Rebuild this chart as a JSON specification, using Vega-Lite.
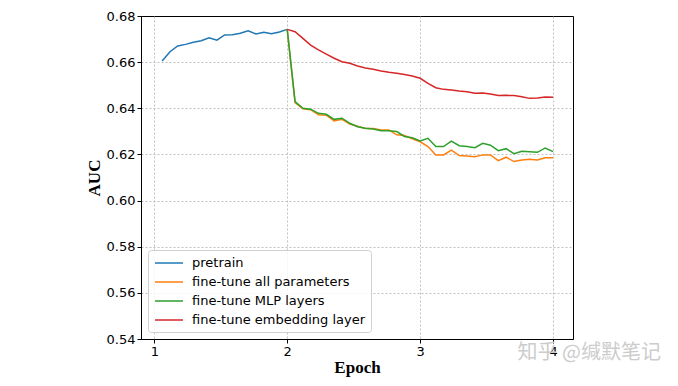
{
  "$schema": "https://vega.github.io/schema/vega-lite/v6.json",
  "width": 432,
  "height": 323,
  "autosize": {"type": "none"},
  "padding": {"left": 141, "top": 16, "right": 105, "bottom": 47},
  "background": "white",
  "title": {"text": "知乎 @缄默笔记", "orient": "bottom", "anchor": "end", "font": "Noto Sans CJK SC", "fontSize": 20, "fontWeight": "normal", "color": "#cccccc", "dx": 88, "dy": -36},
  "config": {
    "view": {"stroke": "black", "strokeWidth": 1},
    "axis": {"labelFont": "DejaVu Sans", "labelFontSize": 13, "labelColor": "black", "domainColor": "black", "tickColor": "black", "tickSize": 4, "gridColor": "#b0b0b0", "gridDash": [2, 2], "gridWidth": 0.8, "titleFont": "Liberation Serif", "titleFontSize": 17, "titleFontWeight": "bold", "titleColor": "black"}
  },
  "data": {"values": [
    {"s": "pretrain", "x": 1.059, "y": 0.6605},
    {"s": "pretrain", "x": 1.118, "y": 0.6645},
    {"s": "pretrain", "x": 1.176, "y": 0.667},
    {"s": "pretrain", "x": 1.235, "y": 0.6677},
    {"s": "pretrain", "x": 1.294, "y": 0.6686},
    {"s": "pretrain", "x": 1.353, "y": 0.6693},
    {"s": "pretrain", "x": 1.412, "y": 0.6706},
    {"s": "pretrain", "x": 1.471, "y": 0.6695},
    {"s": "pretrain", "x": 1.529, "y": 0.6718},
    {"s": "pretrain", "x": 1.588, "y": 0.6719},
    {"s": "pretrain", "x": 1.647, "y": 0.6725},
    {"s": "pretrain", "x": 1.706, "y": 0.6736},
    {"s": "pretrain", "x": 1.765, "y": 0.6722},
    {"s": "pretrain", "x": 1.824, "y": 0.6729},
    {"s": "pretrain", "x": 1.882, "y": 0.6723},
    {"s": "pretrain", "x": 1.941, "y": 0.6731},
    {"s": "pretrain", "x": 2.0, "y": 0.6742},

    {"s": "fine-tune all parameters", "x": 2.0, "y": 0.6742},
    {"s": "fine-tune all parameters", "x": 2.059, "y": 0.6425},
    {"s": "fine-tune all parameters", "x": 2.118, "y": 0.6398},
    {"s": "fine-tune all parameters", "x": 2.176, "y": 0.6394},
    {"s": "fine-tune all parameters", "x": 2.235, "y": 0.6372},
    {"s": "fine-tune all parameters", "x": 2.294, "y": 0.637},
    {"s": "fine-tune all parameters", "x": 2.353, "y": 0.6345},
    {"s": "fine-tune all parameters", "x": 2.412, "y": 0.6352},
    {"s": "fine-tune all parameters", "x": 2.471, "y": 0.6332},
    {"s": "fine-tune all parameters", "x": 2.529, "y": 0.6322},
    {"s": "fine-tune all parameters", "x": 2.588, "y": 0.6312},
    {"s": "fine-tune all parameters", "x": 2.647, "y": 0.6312},
    {"s": "fine-tune all parameters", "x": 2.706, "y": 0.6306},
    {"s": "fine-tune all parameters", "x": 2.765, "y": 0.6306},
    {"s": "fine-tune all parameters", "x": 2.824, "y": 0.6285},
    {"s": "fine-tune all parameters", "x": 2.882, "y": 0.6282},
    {"s": "fine-tune all parameters", "x": 2.941, "y": 0.6268},
    {"s": "fine-tune all parameters", "x": 3.0, "y": 0.6255},
    {"s": "fine-tune all parameters", "x": 3.059, "y": 0.6234},
    {"s": "fine-tune all parameters", "x": 3.118, "y": 0.6198},
    {"s": "fine-tune all parameters", "x": 3.176, "y": 0.6198},
    {"s": "fine-tune all parameters", "x": 3.235, "y": 0.6219},
    {"s": "fine-tune all parameters", "x": 3.294, "y": 0.6195},
    {"s": "fine-tune all parameters", "x": 3.353, "y": 0.6193},
    {"s": "fine-tune all parameters", "x": 3.412, "y": 0.619},
    {"s": "fine-tune all parameters", "x": 3.471, "y": 0.6198},
    {"s": "fine-tune all parameters", "x": 3.529, "y": 0.6198},
    {"s": "fine-tune all parameters", "x": 3.588, "y": 0.6173},
    {"s": "fine-tune all parameters", "x": 3.647, "y": 0.6188},
    {"s": "fine-tune all parameters", "x": 3.706, "y": 0.6169},
    {"s": "fine-tune all parameters", "x": 3.765, "y": 0.6176},
    {"s": "fine-tune all parameters", "x": 3.824, "y": 0.6179},
    {"s": "fine-tune all parameters", "x": 3.882, "y": 0.6176},
    {"s": "fine-tune all parameters", "x": 3.941, "y": 0.6186},
    {"s": "fine-tune all parameters", "x": 4.0, "y": 0.6186},

    {"s": "fine-tune MLP layers", "x": 2.0, "y": 0.6742},
    {"s": "fine-tune MLP layers", "x": 2.059, "y": 0.6429},
    {"s": "fine-tune MLP layers", "x": 2.118, "y": 0.64},
    {"s": "fine-tune MLP layers", "x": 2.176, "y": 0.6396},
    {"s": "fine-tune MLP layers", "x": 2.235, "y": 0.6378},
    {"s": "fine-tune MLP layers", "x": 2.294, "y": 0.6374},
    {"s": "fine-tune MLP layers", "x": 2.353, "y": 0.6352},
    {"s": "fine-tune MLP layers", "x": 2.412, "y": 0.6357},
    {"s": "fine-tune MLP layers", "x": 2.471, "y": 0.6335},
    {"s": "fine-tune MLP layers", "x": 2.529, "y": 0.632},
    {"s": "fine-tune MLP layers", "x": 2.588, "y": 0.6313},
    {"s": "fine-tune MLP layers", "x": 2.647, "y": 0.631},
    {"s": "fine-tune MLP layers", "x": 2.706, "y": 0.6303},
    {"s": "fine-tune MLP layers", "x": 2.765, "y": 0.6303},
    {"s": "fine-tune MLP layers", "x": 2.824, "y": 0.6299},
    {"s": "fine-tune MLP layers", "x": 2.882, "y": 0.6278},
    {"s": "fine-tune MLP layers", "x": 2.941, "y": 0.6272},
    {"s": "fine-tune MLP layers", "x": 3.0, "y": 0.6258},
    {"s": "fine-tune MLP layers", "x": 3.059, "y": 0.627},
    {"s": "fine-tune MLP layers", "x": 3.118, "y": 0.6234},
    {"s": "fine-tune MLP layers", "x": 3.176, "y": 0.6234},
    {"s": "fine-tune MLP layers", "x": 3.235, "y": 0.6258},
    {"s": "fine-tune MLP layers", "x": 3.294, "y": 0.6238},
    {"s": "fine-tune MLP layers", "x": 3.353, "y": 0.6234},
    {"s": "fine-tune MLP layers", "x": 3.412, "y": 0.6229},
    {"s": "fine-tune MLP layers", "x": 3.471, "y": 0.6248},
    {"s": "fine-tune MLP layers", "x": 3.529, "y": 0.624},
    {"s": "fine-tune MLP layers", "x": 3.588, "y": 0.6216},
    {"s": "fine-tune MLP layers", "x": 3.647, "y": 0.6225},
    {"s": "fine-tune MLP layers", "x": 3.706, "y": 0.6203},
    {"s": "fine-tune MLP layers", "x": 3.765, "y": 0.6214},
    {"s": "fine-tune MLP layers", "x": 3.824, "y": 0.6212},
    {"s": "fine-tune MLP layers", "x": 3.882, "y": 0.6209},
    {"s": "fine-tune MLP layers", "x": 3.941, "y": 0.6228},
    {"s": "fine-tune MLP layers", "x": 4.0, "y": 0.6212},

    {"s": "fine-tune embedding layer", "x": 2.0, "y": 0.6742},
    {"s": "fine-tune embedding layer", "x": 2.059, "y": 0.6732},
    {"s": "fine-tune embedding layer", "x": 2.118, "y": 0.6703},
    {"s": "fine-tune embedding layer", "x": 2.176, "y": 0.6674},
    {"s": "fine-tune embedding layer", "x": 2.235, "y": 0.6653},
    {"s": "fine-tune embedding layer", "x": 2.294, "y": 0.6635},
    {"s": "fine-tune embedding layer", "x": 2.353, "y": 0.6617},
    {"s": "fine-tune embedding layer", "x": 2.412, "y": 0.6602},
    {"s": "fine-tune embedding layer", "x": 2.471, "y": 0.6595},
    {"s": "fine-tune embedding layer", "x": 2.529, "y": 0.6583},
    {"s": "fine-tune embedding layer", "x": 2.588, "y": 0.6575},
    {"s": "fine-tune embedding layer", "x": 2.647, "y": 0.6569},
    {"s": "fine-tune embedding layer", "x": 2.706, "y": 0.6562},
    {"s": "fine-tune embedding layer", "x": 2.765, "y": 0.6556},
    {"s": "fine-tune embedding layer", "x": 2.824, "y": 0.6552},
    {"s": "fine-tune embedding layer", "x": 2.882, "y": 0.6546},
    {"s": "fine-tune embedding layer", "x": 2.941, "y": 0.654},
    {"s": "fine-tune embedding layer", "x": 3.0, "y": 0.653},
    {"s": "fine-tune embedding layer", "x": 3.059, "y": 0.6508},
    {"s": "fine-tune embedding layer", "x": 3.118, "y": 0.6489},
    {"s": "fine-tune embedding layer", "x": 3.176, "y": 0.6482},
    {"s": "fine-tune embedding layer", "x": 3.235, "y": 0.6479},
    {"s": "fine-tune embedding layer", "x": 3.294, "y": 0.6475},
    {"s": "fine-tune embedding layer", "x": 3.353, "y": 0.6472},
    {"s": "fine-tune embedding layer", "x": 3.412, "y": 0.6465},
    {"s": "fine-tune embedding layer", "x": 3.471, "y": 0.6466},
    {"s": "fine-tune embedding layer", "x": 3.529, "y": 0.6462},
    {"s": "fine-tune embedding layer", "x": 3.588, "y": 0.6455},
    {"s": "fine-tune embedding layer", "x": 3.647, "y": 0.6456},
    {"s": "fine-tune embedding layer", "x": 3.706, "y": 0.6455},
    {"s": "fine-tune embedding layer", "x": 3.765, "y": 0.645},
    {"s": "fine-tune embedding layer", "x": 3.824, "y": 0.6443},
    {"s": "fine-tune embedding layer", "x": 3.882, "y": 0.6445},
    {"s": "fine-tune embedding layer", "x": 3.941, "y": 0.6449},
    {"s": "fine-tune embedding layer", "x": 4.0, "y": 0.6448}
  ]},
  "mark": {"type": "line", "strokeWidth": 1.5},
  "encoding": {
    "x": {"field": "x", "type": "quantitative", "title": "Epoch",
      "scale": {"domain": [0.9, 4.15], "nice": false, "zero": false},
      "axis": {"values": [1, 2, 3, 4], "format": "d", "titlePadding": 1}},
    "y": {"field": "y", "type": "quantitative", "title": "AUC",
      "scale": {"domain": [0.54, 0.68], "nice": false, "zero": false},
      "axis": {"values": [0.54, 0.56, 0.58, 0.6, 0.62, 0.64, 0.66, 0.68], "format": ".2f", "titlePadding": 3,
        "gridOpacity": {"condition": {"test": "datum.value >= 0.679 || datum.value <= 0.541", "value": 0}, "value": 1}}},
    "color": {"field": "s", "type": "nominal", "sort": null,
      "scale": {"domain": ["pretrain", "fine-tune all parameters", "fine-tune MLP layers", "fine-tune embedding layer"], "range": ["#1f77b4", "#ff7f0e", "#2ca02c", "#d62728"]},
      "legend": {"title": null, "orient": "none", "legendX": 7, "legendY": 234, "symbolType": "M-2,0H2", "symbolSize": 196, "symbolOffset": 8, "symbolStrokeWidth": 1.5, "labelFont": "DejaVu Sans", "labelFontSize": 13, "labelColor": "black", "fillColor": "rgba(255,255,255,0.8)", "strokeColor": "#d0d0d0", "padding": 5, "cornerRadius": 3, "rowPadding": 4, "labelOffset": 15, "labelLimit": 300}}
  }
}
